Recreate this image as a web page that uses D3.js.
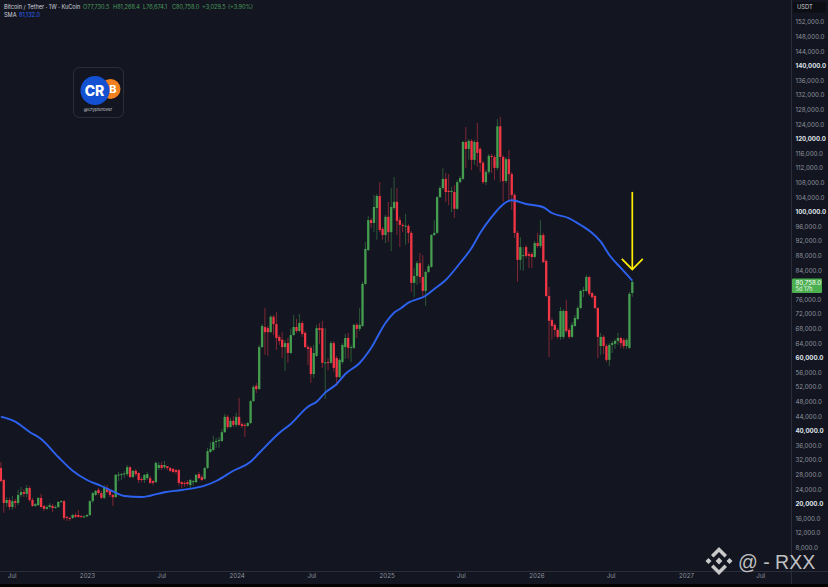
<!DOCTYPE html>
<html><head><meta charset="utf-8">
<script src="https://cdn.jsdelivr.net/npm/d3@7"></script>
<style>html,body{margin:0;padding:0;background:#000}svg{display:block}text{font-family:Inter,Roboto,sans-serif}</style>
</head><body><svg id="c" width="828" height="587"></svg>
<script>
// Weekly candles, prices in thousands of USDT, oldest first
const opensK=[29.8,26.5,20.2,21,19.1,20.7,20.2,22.4,23.2,22.7,
24.3,21,19.4,19.6,21.6,19.4,18.6,19.1,19.4,18.8,
19.1,20.5,20.7,16.4,16.1,16.1,16.9,16.9,16.6,16.4,
16.5,16.9,20.7,22.4,23.8,22.9,21.6,24.3,23.5,22.4,
21.8,27.9,27.9,28.1,28.1,30,27.3,29,28.4,26.8,
26.5,27,27,26.2,25.9,29.8,30.6,30,30.3,29.8,
29.5,29.2,29.2,25.9,25.7,25.9,25.1,25.9,25.9,28.1,
27.3,26.8,29.8,34.2,34.7,36.9,37.2,37.2,39.6,43.8,
41,42.7,41.6,43.8,41.8,41.6,41.3,42.1,48.1,52.3,
51.4,62.9,68.4,68.1,67,71.2,69.2,65.7,64.9,62.9,
64,61.3,66.2,68.4,67.3,69.5,66.8,62.9,62.7,55.5,
60.5,68.1,68.1,58.6,58.8,58.6,64,59.9,54.7,58.8,
62.9,65.4,62.7,62.7,69,67.9,68.7,80.2,89.5,97.7,
96.9,101,104.3,95.3,93.6,98.6,94.4,101,102.7,97.7,
96.4,96.1,96.1,94.2,80.5,82.4,85.9,82.1,78.3,83.5,
84.9,93.6,94.2,104,106.5,109,105.7,105.4,105.4,100.8,
108.1,109,119.1,117.2,119.4,114.2,119.1,117.2,113.4,108.1,
110.9,115.3,115,112,123.4,115,108.4,114.4,110.3,104.6,
94.2,86.8,87.9,90.3,88.4,88.4,87.6,91.4,90.6,93.6,
86.5,76.9,70.3,69,67.6,65.7,65.7,72.8,67.6,65.7,
68.7,70.6,73.6,78.3,78.3,82.1,77.7,76.9,73.6,63.2,
65.7,63.2,59.4,63.5,63.8,64.6,65.4,64.9,63.2,62.7,
77.73];
const closesK=[26.2,20.2,21,19.1,20.7,20.2,22.4,23.2,22.7,24.3,
21,19.4,19.9,21.6,19.1,18.6,19.1,19.6,18.8,19.1,
20.5,20.7,16.1,16.1,16,16.9,16.4,16.4,16.4,16.5,
16.9,20.7,22.9,23.5,22.9,21.6,24.3,23.2,22.4,21.8,
27.9,28,28.1,28.3,30,27.3,29,28.1,26.5,26.5,
27.9,28.1,25.7,25.7,31.2,30.6,29.8,30.6,29.8,29,
28.7,28.7,25.7,25.4,25.4,25.4,26.5,26.2,27.9,27,
26.5,29.8,34.4,35,36.9,37.2,37.5,39.6,43.8,41,
42.7,41.6,43.8,41.6,41.3,41.4,42.1,48.1,52,51.4,
62.9,68.7,67,67,71.2,69.2,65.4,64.6,62.9,64,
61.3,66.2,68.4,67.3,69.5,66.5,62.9,62.4,55.5,61.3,
68.1,67.6,58.6,58.7,58.6,64,57.2,54.7,59.4,63.5,
65.4,62.7,62.9,69,67.9,69,80.2,89.8,97.7,96.9,
101.3,104.3,95,93.6,98.6,94.4,101.3,102.7,97.5,96.4,
96.1,96.2,94.2,80.5,82.4,85.9,82.1,78.3,83.5,85.1,
93.6,94.2,104,106.5,109,105.4,105.4,105.7,100.8,108.1,
109.2,119.1,117.2,119.4,114.2,119.1,116.1,113.4,108.1,110.9,
115.3,115,112,123.4,115,108.4,114.4,110.3,104.6,94.2,
86.8,90.3,88.1,87.9,87.9,87.6,91.4,90.6,93.6,86.2,
76.9,70.1,68.7,67.6,65.7,72.8,72.8,67.3,65.7,69,
70.9,73.6,78.3,78.6,82.1,77.5,76.6,73.6,65.7,65.7,
63.2,59.4,63.5,64,64.6,65.4,64,63.2,64.9,77.5,
80.76];
const highsK=[31.4,26.8,21.8,21.6,22.1,21.3,23.8,24.6,24,25.1,
24.9,21.6,20.2,21.8,22.7,19.6,19.6,20.2,19.9,19.6,
20.7,21,21,16.6,16.4,17.2,17.5,18.3,16.9,16.9,
17.2,21,23.2,23.8,24.3,23.5,25.1,25.1,24,22.7,
28.1,28.7,28.4,29,30.6,30.3,29.2,29.5,28.7,27.3,
28.1,28.7,27.6,26.5,31.4,31.4,31.4,31.7,30.3,30,
29.8,29.5,29.5,26.2,26.2,26.5,26.8,26.5,28.1,28.7,
27.9,30,35.3,36.9,38.6,38,38.3,40.5,44.6,44.3,
43.5,44,44.9,49,42.4,42.1,42.4,48.4,52.5,53.1,
63.5,69.2,73.6,68.7,71.7,71.7,72.5,66.2,67,64.9,
65.4,67.9,71.7,70.6,72,70.1,67.3,63.5,63.2,63.5,
69,69.5,70.1,68.1,59.9,64.6,64.6,60.5,59.9,64,
66.5,66.8,63.5,69.2,69.5,73.6,80.8,91.7,98.8,98.3,
104.6,104.9,108.1,95.8,99.1,102.7,106.5,109.5,106.5,98.6,
96.9,99.4,96.6,94.7,84.6,86.5,88.7,88.1,84,85.7,
93.9,97.7,104.3,107,111.9,110.6,110.3,106.8,107.3,108.7,
109.8,119.4,123.2,119.9,119.9,119.7,124.3,117.7,113.9,111.4,
115.8,115.8,115.5,125.4,126,115.5,115,116.9,110.9,105.1,
94.7,93,90.3,90.9,89,89,92,94.2,97.7,94.2,
87,79.4,70.9,69.5,68.1,73.9,73.3,75.8,68.1,69.8,
71.7,74.2,78.6,79.4,82.7,82.4,78,77.2,73.9,66.8,
66.2,63.8,64,64.6,65.1,66.8,65.7,65.4,65.4,78,
81.27];
const lowsK=[25.9,17.5,19.1,18.3,18.3,18.8,19.6,21.8,21.8,21.8,
20.5,19.1,19.1,19.4,18.8,18,18.3,18.6,17.7,18.6,
18.8,20.2,15.5,15.3,15.3,15.8,16.1,16.1,16.1,16.1,
16.4,16.6,20.2,22.1,22.4,21.3,21.3,22.9,21.8,19.4,
21.6,26.2,26.5,27,27.6,27,27,27.6,25.7,25.9,
25.7,26.5,25.4,25.1,25.7,29.2,29.2,29.5,29.2,28.7,
28.4,28.1,24.9,24.3,24.6,24.9,24,24.9,25.7,26.8,
26.2,26.5,29.5,33.9,34.4,35.3,35.3,36.9,39.4,40.5,
40.7,41,41,41.3,40.7,38.3,41,41.8,47.9,50.3,
51.2,62.7,60.8,60.5,66.8,66.2,62.1,63.5,59.9,56.4,
58.6,61,66,66.8,67,65.7,62.7,58,53.1,54.4,
60.2,63.8,57.2,48.7,56.6,58.3,56.1,52.3,54.4,58.3,
59.7,59.7,58.8,62.4,65.4,67.3,68.4,79.9,89.2,95.5,
94.4,92.3,94.4,92.3,91.4,91.7,89.2,100.5,93.6,90.3,
94.4,90.9,91.4,78,76.6,79.9,80.5,76.6,74.2,83.2,
84.6,93.4,93.9,103.8,106,102.7,101.8,99.9,98.3,100.5,
107.8,108.7,112,114.2,111.4,112.8,112.3,110.9,107.6,107.3,
110.3,110.6,108.7,111.4,108.1,102.7,107.8,103.2,100.5,92.8,
80.8,84,83.8,87.3,84.6,84.6,87.3,90,90,85.9,
76.6,60.2,64.9,65.7,65.1,64.9,65.1,66.8,65.1,65.4,
68.4,70.3,73.3,76.6,78,76.9,76.1,73.3,59.9,60.8,
61,58.8,57.7,61.3,62.4,63.5,62.7,62.4,62.4,62.4,
76.67];
// SMA read at these candle positions (thousands of USDT)
const smaIndex=[0,5,10,14,20,25,30,35,40,43,49,52,57,63,71,75,81,87,90,97,101,107,110,113,117,120,125,129,134,137,139,142,148,151,155,160,164,167,171,174,176,178,183,189,192,198,202,206,209,212,216,220];
const smaK=[43.84,42.47,39.65,37.73,32.8,29.04,26.5,24.85,23.02,22.11,21.84,22.19,23.13,23.76,24.93,26.22,29.04,31.51,33.89,39.37,41.84,46.58,47.95,50.42,52.8,55.54,58.55,62.66,69.51,72.34,73.35,75.08,76.99,78.83,81.3,85.95,90.06,94.17,98.56,101.3,102.59,103.13,102.12,101.22,99.65,98.2,96.37,94.17,91.79,88.15,84.58,81.13];
const priceTicks=[152,148,144,140,136,132,128,124,120,116,112,108,104,100,96,92,88,84,76,72,68,64,60,56,52,48,44,40,36,32,28,24,20,16,12,8];
const boldTicks=[140,120,100,60,40,20];
const timeLabels=[["2022-07-01","Jul"],["2023-01-01","2023"],["2023-07-01","Jul"],["2024-01-01","2024"],["2024-07-01","Jul"],["2025-01-01","2025"],["2025-07-01","Jul"],["2026-01-01","2026"],["2026-07-01","Jul"],["2027-01-01","2027"],["2027-07-01","Jul"]];
const lastDate=new Date(Date.UTC(2026,7,23));

const BG="#131621",UP="#459e4f",DOWN="#f23645",W=828,H=587;
const svg=d3.select("#c");
svg.append("rect").attr("width",W).attr("height",H).attr("fill","#000");
svg.append("rect").attr("width",W).attr("height",584).attr("fill",BG);

const x=d3.scaleUtc().domain([new Date(Date.UTC(2023,0,1)),new Date(Date.UTC(2027,0,1))]).range([87,686]);
const y=d3.scaleLinear().domain([0,20]).range([576.7,503.7]);
const dateOf=i=>d3.utcDay.offset(lastDate,-7*(closesK.length-1-i));
const candles=closesK.map((c,i)=>({d:dateOf(i),o:opensK[i],h:highsK[i],l:lowsK[i],c}));
const col=d=>d.c>=d.o?UP:DOWN;

const plot=svg.append("g");
plot.selectAll("line.w").data(candles).join("line").attr("class","w")
 .attr("x1",d=>x(d.d)).attr("x2",d=>x(d.d)).attr("y1",d=>y(d.h)).attr("y2",d=>y(d.l))
 .attr("stroke",col).attr("stroke-width",0.9).attr("stroke-opacity",0.55);
plot.selectAll("rect.b").data(candles).join("rect").attr("class","b")
 .attr("x",d=>x(d.d)-1.15).attr("width",2.3)
 .attr("y",d=>Math.min(y(d.o),y(d.c)))
 .attr("height",d=>Math.max(1,Math.abs(y(d.o)-y(d.c))))
 .attr("fill",col);

const sma=d3.line().x(d=>x(dateOf(d[0]))).y(d=>y(d[1])).curve(d3.curveMonotoneX);
plot.append("path").attr("d",sma(smaIndex.map((s,i)=>[s,smaK[i]])))
 .attr("fill","none").attr("stroke","#2d62f0").attr("stroke-width",1.9);

// Arrow annotation anchored on the last candle
const ax=x(lastDate),ay=y(80.76);
const arrow=svg.append("g").attr("fill","none").attr("stroke","#ffee00").attr("stroke-width",1.7);
arrow.append("line").attr("x1",ax).attr("x2",ax).attr("y1",ay-90).attr("y2",ay-12.5);
arrow.append("path").attr("d",`M${ax-10.5},${ay-23}L${ax},${ay-12.5}L${ax+10.5},${ay-23}`);

// Axes
svg.append("line").attr("x1",0).attr("x2",W).attr("y1",571.5).attr("y2",571.5).attr("stroke","#2a2e39");
svg.append("line").attr("x1",791.5).attr("x2",791.5).attr("y1",0).attr("y2",584).attr("stroke","#2a2e39");
const yAxis=svg.append("g").attr("transform","translate(795.5,0)")
 .call(d3.axisRight(y).tickValues(priceTicks).tickSize(0).tickPadding(0).tickFormat(v=>d3.format(",.1f")(v*1000)));
yAxis.select(".domain").remove();
yAxis.selectAll("text").attr("font-size",d=>boldTicks.includes(d)?6.1:6.2).attr("fill",d=>boldTicks.includes(d)?"#dfe1e7":"#8f939e")
 .attr("font-weight",d=>boldTicks.includes(d)?700:400);
const xAxis=svg.append("g").attr("transform","translate(0,574)")
 .call(d3.axisBottom(x).tickValues(timeLabels.map(t=>new Date(t[0]+"T00:00:00Z"))).tickSize(0).tickPadding(0)
 .tickFormat(d=>timeLabels.find(t=>+new Date(t[0]+"T00:00:00Z")===+d)[1]));
xAxis.select(".domain").remove();
xAxis.selectAll("text").attr("font-size",6.2).attr("fill","#8f939e");

// USDT header & last price tag
svg.append("rect").attr("x",793).attr("y",2).attr("width",33).attr("height",10.5).attr("rx",1.5).attr("fill","#0c0e13");
svg.append("text").attr("x",797).attr("y",9.2).attr("font-size",5.8).attr("fill","#c8cad0").text("USDT");
svg.append("rect").attr("x",792).attr("y",278.5).attr("width",30).attr("height",14.5).attr("rx",1).attr("fill","#4caf50");
svg.append("text").attr("x",795.5).attr("y",284.5).attr("font-size",6.2).attr("fill","#fff").text(d3.format(",.1f")(80758));
svg.append("text").attr("x",795.5).attr("y",291).attr("font-size",5.6).attr("fill","#e4f3e4").text("5d 17h");

// Legend
const lg=svg.append("g").attr("font-size",5.6);
lg.append("text").attr("x",4).attr("y",8.7).attr("fill","#d1d4dc").text("Bitcoin / Tether · 1W · KuCoin");
[[83,"O77,730.5"],[113,"H81,268.4"],[143,"L76,674.1"],[172,"C80,758.0"],[202,"+3,029.5"],[228,"(+3.90%)"]].forEach(t=>
 lg.append("text").attr("x",t[0]).attr("y",8.7).attr("fill","#4a9a58").text(t[1]));
lg.append("text").attr("x",4).attr("y",17).attr("fill","#d1d4dc").text("SMA");
lg.append("text").attr("x",19).attr("y",17).attr("fill","#2d62f0").text("81,132.0");

// Logo
const lo=svg.append("g");
lo.append("rect").attr("x",73.5).attr("y",67.5).attr("width",50).attr("height",50).attr("rx",6).attr("fill","none").attr("stroke","#2b2f3a");
lo.append("circle").attr("cx",110.5).attr("cy",89).attr("r",10).attr("fill","#f2801f");
lo.append("text").attr("x",113).attr("y",93).attr("text-anchor","middle").attr("font-size",11).attr("font-weight",700).attr("fill","#fff").text("B");
lo.append("circle").attr("cx",95).attr("cy",90.5).attr("r",14.5).attr("fill","#1450d2");
lo.append("text").attr("x",94.5).attr("y",95.5).attr("text-anchor","middle").attr("font-size",14).attr("font-weight",800).attr("fill","#fff").text("CR");
lo.append("text").attr("x",98).attr("y",110.5).attr("text-anchor","middle").attr("font-size",4.4).attr("fill","#c4c6cc").text("@cryptorover");

// Watermark
const wm=svg.append("g").attr("fill","#c9c9c9");
const dia=(cx,cy,r)=>`M${cx-r},${cy}L${cx},${cy-r}L${cx+r},${cy}L${cx},${cy+r}Z`;
wm.append("path").attr("d",dia(719,561,3.4)+dia(708.5,561,3)+dia(729.5,561,3));
wm.append("path").attr("d",`M719,547L727,555L724.5,557.5L719,552L713.5,557.5L711,555Z`);
wm.append("path").attr("d",`M719,575L727,567L724.5,564.5L719,570L713.5,564.5L711,567Z`);
wm.append("text").attr("x",738).attr("y",569).attr("font-size",19.5).style("font-family","'Liberation Sans',sans-serif").attr("fill","#cfcfcf").attr("opacity",0.92).text("@ - RXX");
</script></body></html>
